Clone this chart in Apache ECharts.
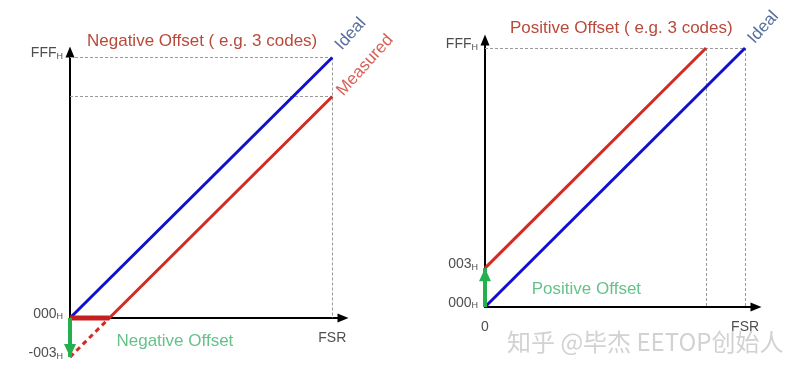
<!DOCTYPE html>
<html>
<head>
<meta charset="utf-8">
<script src="https://cdn.jsdelivr.net/npm/echarts@6/dist/echarts.min.js"></script>
<style>
  html, body { margin: 0; padding: 0; background: #fff; }
  #chart { width: 800px; height: 376px; }
</style>
</head>
<body>
<div id="chart"></div>
<script>
// ====== ADC offset error, both panels in schematic units (FFF = 100, offset = 15) ======
// left panel: negative offset
const idealL = [[0, 0], [100, 100]];
const measuredL = [[15, 0], [100, 85]];
const clampL = [[0, 0], [15, 0]];
const extrapL = [[0, -15], [15, 0]];
const arrowL = [[0, 0], [0, -15]];
const guidesL = [[[0, 100], [100, 100]], [[0, 85], [100, 85]], [[100, 100], [100, 0]]];
const codeLabelsL = [["FFF", 100], ["000", 0], ["-003", -15]];

// right panel: positive offset
const idealR = [[0, 0], [100, 100]];
const measuredR = [[0, 15], [85, 100]];
const arrowR = [[0, 0], [0, 15]];
const guidesR = [[[0, 100], [100, 100]], [[85, 100], [85, 0]], [[100, 100], [100, 0]]];
const codeLabelsR = [["FFF", 100], ["003", 15], ["000", 0]];

const titles = ["Negative Offset ( e.g. 3 codes)", "Positive Offset ( e.g. 3 codes)"];

const FONT = "Liberation Sans, Arial, sans-serif";
const BLUE = "#1111cc";
const RED = "#d42a22";
const GREEN = "#25b04f";

const chart = echarts.init(document.getElementById("chart"));

function axisPair(i, xMax, yMax) {
  const base = {
    type: "value",
    gridIndex: i,
    min: 0,
    axisLine: {
      onZero: false,
      symbol: ["none", "triangle"],
      symbolSize: [9, 11],
      lineStyle: { color: "#000", width: 2 },
    },
    axisTick: { show: false },
    axisLabel: { show: false },
    splitLine: { show: false },
  };
  return [
    Object.assign({}, base, { max: xMax }),
    Object.assign({}, base, { max: yMax }),
  ];
}

const ax0 = axisPair(0, 104.1, 102.1);
const ax1 = axisPair(1, 104.2, 103.1);

const subRich = {
  m: { fontSize: 14, color: "#222", fontFamily: FONT },
  s: { fontSize: 9, color: "#222", fontFamily: FONT, verticalAlign: "bottom", padding: [6, 0, 0, 0] },
};

function codeSeries(i, labels) {
  return {
    type: "scatter",
    xAxisIndex: i, yAxisIndex: i,
    symbolSize: 0, silent: true, clip: false, z: 5,
    data: labels.map((l) => ({ value: [0, l[1]], name: l[0] })),
    label: {
      show: true, position: "left", distance: 7, offset: [0, -4],
      formatter: (p) => `{m|${p.name}}{s|H}`,
      rich: subRich,
    },
  };
}

function textSeries(i, items) {
  return {
    type: "scatter",
    xAxisIndex: i, yAxisIndex: i,
    symbolSize: 0, silent: true, clip: false, z: 5,
    data: items.map((t) => ({
      value: t.at,
      label: Object.assign(
        { show: true, position: "inside", formatter: t.text, fontFamily: FONT },
        t.style
      ),
    })),
  };
}

function lineSeries(i, data, color, width, extra) {
  return Object.assign({
    type: "line",
    xAxisIndex: i, yAxisIndex: i,
    data: data,
    symbol: "none",
    clip: false,
    silent: true,
    lineStyle: { color: color, width: width, cap: "butt" },
    z: 3,
  }, extra || {});
}

function guideSeries(i, segs) {
  return {
    type: "lines",
    coordinateSystem: "cartesian2d",
    xAxisIndex: i, yAxisIndex: i,
    silent: true,
    z: 1,
    lineStyle: { color: "#9a9a9a", width: 1, type: [3, 2], opacity: 1 },
    data: segs.map((s) => ({ coords: s })),
  };
}

function arrowSeries(i, data, down) {
  return lineSeries(i, data.map((d, k) => k === data.length - 1
    ? { value: d, symbol: "triangle", symbolSize: [12, 13], symbolRotate: down ? 180 : 0,
        symbolOffset: [0, down ? "-50%" : "50%"] }
    : { value: d }), GREEN, 4, {
    itemStyle: { color: GREEN },
    z: 6,
  });
}

const titleStyle = { color: "#b9493b", fontSize: 17, fontWeight: "normal", fontFamily: FONT };

const option = {
  animation: false,
  backgroundColor: "#fff",
  title: [
    { text: titles[0], left: 87, top: 33, padding: 0, textStyle: titleStyle },
    { text: titles[1], left: 510, top: 20, padding: 0, textStyle: titleStyle },
  ],
  grid: [
    { left: 70, top: 52, width: 273, height: 266 },
    { left: 485, top: 40, width: 271, height: 267 },
  ],
  xAxis: [ax0[0], ax1[0]],
  yAxis: [ax0[1], ax1[1]],
  graphic: [{
    type: "text", left: 507, top: 330, silent: true,
    style: { text: "知乎 @毕杰 EETOP创始人", fill: "#d2d2d2",
      font: '24px "Noto Sans CJK SC", sans-serif' },
  }],
  series: [
    // ---- left ----
    guideSeries(0, guidesL),
    lineSeries(0, idealL, BLUE, 3),
    lineSeries(0, measuredL, RED, 3),
    lineSeries(0, clampL, "#c42020", 5, { z: 4 }),
    lineSeries(0, extrapL, RED, 3, { lineStyle: { color: RED, width: 3, type: [5, 4] } }),
    arrowSeries(0, arrowL, true),
    codeSeries(0, codeLabelsL),
    textSeries(0, [
      { at: [100, 0], text: "FSR", style: { position: "bottom", distance: 13, fontSize: 14, color: "#222" } },
      { at: [40, -9], text: "Negative Offset", style: { fontSize: 17, color: "#3db36b" } },
      { at: [107, 109], text: "Ideal", style: { fontSize: 17, color: "#2d4a86", rotate: 48 } },
      { at: [112.5, 97], text: "Measured", style: { fontSize: 17, color: "#d0382a", rotate: 48 } },
    ]),
    // ---- right ----
    guideSeries(1, guidesR),
    lineSeries(1, idealR, BLUE, 3),
    lineSeries(1, measuredR, RED, 3),
    arrowSeries(1, arrowR, false),
    codeSeries(1, codeLabelsR),
    textSeries(1, [
      { at: [0, 0], text: "0", style: { position: "bottom", distance: 13, fontSize: 14, color: "#222" } },
      { at: [100, 0], text: "FSR", style: { position: "bottom", distance: 13, fontSize: 14, color: "#222" } },
      { at: [39, 7], text: "Positive Offset", style: { fontSize: 17, color: "#3db36b" } },
      { at: [107, 108], text: "Ideal", style: { fontSize: 17, color: "#2d4a86", rotate: 48 } },
    ]),
  ],
};

chart.setOption(option);
</script>
</body>
</html>
